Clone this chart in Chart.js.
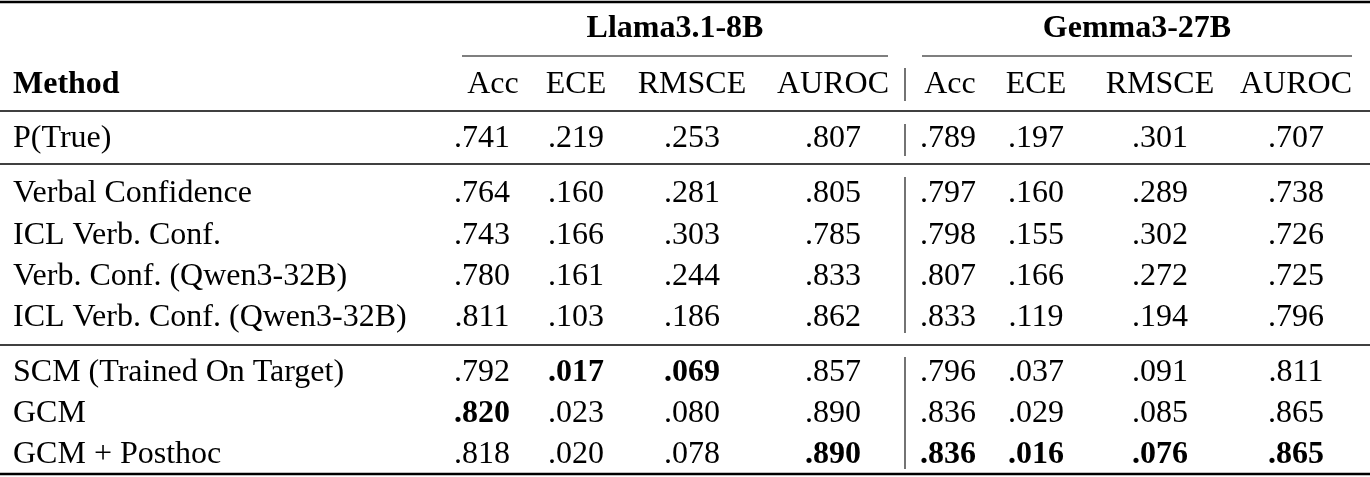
<!DOCTYPE html>
<html><head><meta charset="utf-8">
<script src="https://cdn.jsdelivr.net/npm/chart.js@4"></script>
<style>html,body{margin:0;padding:0;background:#fff}</style>
</head><body>
<canvas id="c" width="1370" height="477"></canvas>
<script>
const models = ["Llama3.1-8B", "Gemma3-27B"];
const metrics = ["Acc", "ECE", "RMSCE", "AUROC"];
const methods = ["P(True)", "Verbal Confidence", "ICL Verb. Conf.", "Verb. Conf. (Qwen3-32B)", "ICL Verb. Conf. (Qwen3-32B)", "SCM (Trained On Target)", "GCM", "GCM + Posthoc"];
const llama = [
  [".741", ".219", ".253", ".807"],
  [".764", ".160", ".281", ".805"],
  [".743", ".166", ".303", ".785"],
  [".780", ".161", ".244", ".833"],
  [".811", ".103", ".186", ".862"],
  [".792", ".017", ".069", ".857"],
  [".820", ".023", ".080", ".890"],
  [".818", ".020", ".078", ".890"]];
const gemma = [
  [".789", ".197", ".301", ".707"],
  [".797", ".160", ".289", ".738"],
  [".798", ".155", ".302", ".726"],
  [".807", ".166", ".272", ".725"],
  [".833", ".119", ".194", ".796"],
  [".796", ".037", ".091", ".811"],
  [".836", ".029", ".085", ".865"],
  [".836", ".016", ".076", ".865"]];
const boldLlama = [[],[],[],[],[],[1,2],[0],[3]];
const boldGemma = [[],[],[],[],[],[],[],[0,1,2,3]];

// layout (pixels in a 0..1370 x 0..477 coordinate space)
const colX = [[482,576,692,833],[948,1036,1160,1296]];
const hdrX = [[493,576,692,833],[950,1036,1160,1296]];
const rowY = [138,193,235,276,317,372,413,454];
const F = "Liberation Serif";
const FS = 32;

const tablePlugin = {
  id: 'table',
  afterDraw(chart) {
    const ctx = chart.ctx, xs = chart.scales.x, ys = chart.scales.y;
    const X = v => xs.getPixelForValue(v), Y = v => ys.getPixelForValue(v);
    ctx.save();
    ctx.fillStyle = '#000'; ctx.strokeStyle = '#000';
    ctx.textBaseline = 'middle';
    const line = (x1, y1, x2, y2, w) => { ctx.lineWidth = w; ctx.beginPath(); ctx.moveTo(X(x1), Y(y1)); ctx.lineTo(X(x2), Y(y2)); ctx.stroke(); };
    line(0, 2, 1370, 2, 2.5);
    line(0, 111, 1370, 111, 1.3);
    line(0, 164, 1370, 164, 1.3);
    line(0, 345, 1370, 345, 1.3);
    line(0, 474, 1370, 474, 2.5);
    line(462, 56, 888, 56, 1.1);
    line(922, 56, 1352, 56, 1.1);
    [[68,101],[124,156],[177,333],[357,469]].forEach(s => line(905, s[0], 905, s[1], 1.1));
    ctx.textAlign = 'center';
    ctx.font = 'bold ' + FS + 'px "' + F + '"';
    ctx.fillText(models[0], X(675), Y(29));
    ctx.fillText(models[1], X(1137), Y(29));
    ctx.textAlign = 'left';
    ctx.fillText("Method", X(13), Y(85));
    ctx.font = FS + 'px "' + F + '"';
    ctx.textAlign = 'center';
    for (let m = 0; m < 2; m++) metrics.forEach((t, i) => ctx.fillText(t, X(hdrX[m][i]), Y(85)));
    methods.forEach((name, r) => {
      ctx.textAlign = 'left';
      ctx.font = FS + 'px "' + F + '"';
      ctx.fillText(name, X(13), Y(rowY[r] + 1));
      ctx.textAlign = 'center';
      [[llama, boldLlama], [gemma, boldGemma]].forEach(([vals, bold], m) => {
        vals[r].forEach((v, i) => {
          ctx.font = (bold[r].includes(i) ? 'bold ' : '') + FS + 'px "' + F + '"';
          ctx.fillText(v, X(colX[m][i]), Y(rowY[r] + 1));
        });
      });
    });
    ctx.restore();
  }
};

new Chart(document.getElementById('c'), {
  type: 'scatter',
  data: { datasets: [{ data: rowY.map(y => ({ x: 0, y })), pointRadius: 0 }] },
  options: {
    responsive: false, animation: false,
    layout: { padding: 0 },
    plugins: { legend: { display: false }, tooltip: { enabled: false } },
    scales: {
      x: { type: 'linear', min: 0, max: 1370, display: false },
      y: { type: 'linear', min: 0, max: 477, reverse: true, display: false }
    }
  },
  plugins: [tablePlugin]
});
</script>
</body></html>
